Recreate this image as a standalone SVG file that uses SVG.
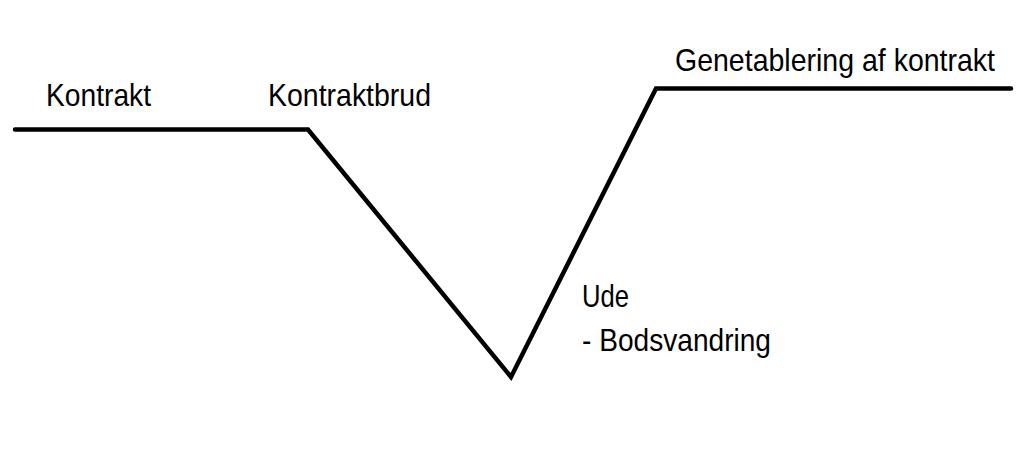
<svg xmlns="http://www.w3.org/2000/svg" width="1034" height="456" viewBox="0 0 1034 456">
<style>
.lbl{font-family:"Liberation Sans",Arial,sans-serif;font-size:32px;fill:#000}
.ln{fill:none;stroke:#000;stroke-width:4.5;stroke-linecap:round;stroke-linejoin:miter}
</style>
<rect width="1034" height="456" fill="#fff"/>
<g id="connectors">
<polyline class="ln" points="15,129.5 308,129.5 511,377 656,88.5 1011,88.5"/>
</g>
<g id="kontrakt"><text class="lbl" x="46" y="106" textLength="105" lengthAdjust="spacingAndGlyphs">Kontrakt</text></g>
<g id="kontraktbrud"><text class="lbl" x="268" y="106" textLength="163" lengthAdjust="spacingAndGlyphs">Kontraktbrud</text></g>
<g id="genetablering"><text class="lbl" x="675" y="71" textLength="320" lengthAdjust="spacingAndGlyphs">Genetablering af kontrakt</text></g>
<g id="ude"><text class="lbl" x="582" y="306.5" textLength="47" lengthAdjust="spacingAndGlyphs">Ude</text><text class="lbl" x="582" y="351" textLength="189" lengthAdjust="spacingAndGlyphs">- Bodsvandring</text></g>
</svg>
